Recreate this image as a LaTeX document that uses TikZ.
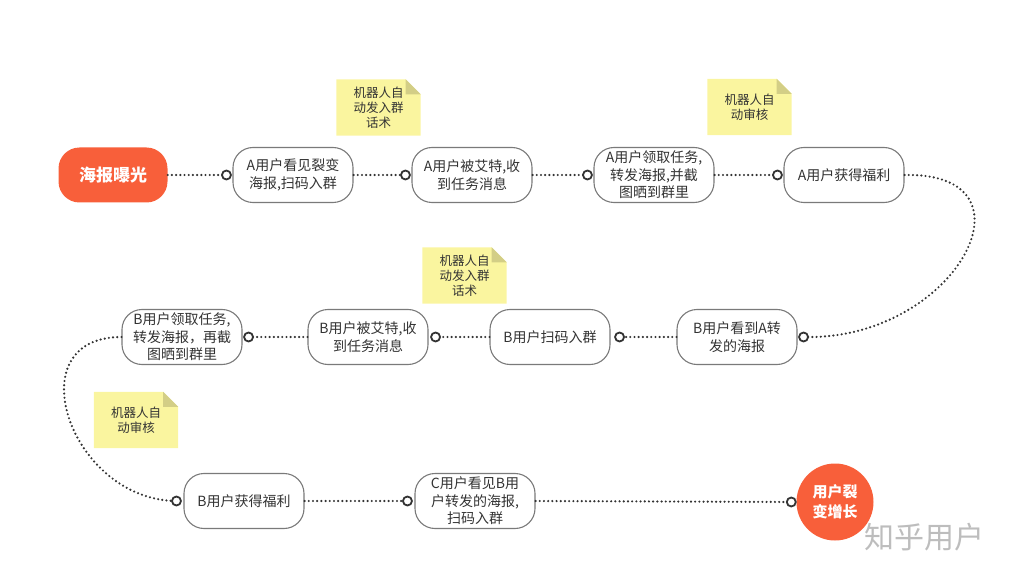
\documentclass[tikz,border=0pt]{standalone}
\usepackage{fontspec}
\setmainfont{Noto Sans CJK SC}
\usetikzlibrary{backgrounds}
\definecolor{orng}{HTML}{F85F3A}
\definecolor{boxgray}{HTML}{7A7A7A}
\definecolor{txt}{HTML}{333333}
\definecolor{linec}{HTML}{333333}
\definecolor{notey}{HTML}{FAF59F}
\definecolor{notefold}{HTML}{D3CE86}
\definecolor{wm}{HTML}{BDBDBD}
\newcommand{\drawnote}[1]{%
  \fill[notey] (#1.south west) -- (#1.north west) -- ([xshift=-15pt]#1.north east)
     -- ([yshift=-15pt]#1.north east) -- (#1.south east) -- cycle;
  \fill[notefold] ([xshift=-15pt]#1.north east) -- ([yshift=-15pt]#1.north east)
     -- ([xshift=-15pt,yshift=-15pt]#1.north east) -- cycle;}
\begin{document}
\begin{tikzpicture}[x=1pt,y=-1pt,
  box/.style={draw=boxgray, line width=1.1pt, fill=white, rounded corners=20pt,
    minimum width=120pt, minimum height=55pt, align=center, text=txt,
    font=\fontsize{14}{17.5}\selectfont, inner sep=1pt},
  startbox/.style={fill=orng, rounded corners=21pt, minimum width=109pt, minimum height=55pt,
    text=white, font=\fontsize{17}{20}\selectfont\bfseries},
  endcirc/.style={circle, fill=orng, minimum size=77pt, inner sep=0pt, align=center,
    text=white, font=\fontsize{15}{20.5}\selectfont\bfseries},
  notebox/.style={minimum width=84pt, minimum height=56pt, align=center, text=txt,
    font=\fontsize{12.5}{15}\selectfont, inner sep=1pt},
  conn/.style={draw=linec, line width=2.4pt, line cap=round, dash pattern=on 0pt off 4.2pt},
  dotend/.style={circle, solid, draw=linec, line width=1.8pt, fill=white, inner sep=0pt, minimum size=9pt},
  wmark/.style={text=wm, font=\fontsize{30}{32}\selectfont}
]
\useasboundingbox (0,0) rectangle (1015,572);

% notes
\node[notebox] (n1) at (378.5,107.5) {机器人自\\动发入群\\话术};
\node[notebox] (n2) at (749.5,107) {机器人自\\动审核};
\node[notebox] (n3) at (464.5,275.5) {机器人自\\动发入群\\话术};
\node[notebox] (n4) at (136,420) {机器人自\\动审核};
\begin{pgfonlayer}{background}
\drawnote{n1}\drawnote{n2}\drawnote{n3}\drawnote{n4}
\end{pgfonlayer}

% row 1
\node[startbox] (s) at (113,175) {海报曝光};
\node[box] (a1) at (293,175) {A用户看见裂变\\海报,扫码入群};
\node[box] (a2) at (472,175) {A用户被艾特,收\\到任务消息};
\node[box] (a3) at (654,175) {A用户领取任务,\\转发海报,并截\\图晒到群里};
\node[box] (a4) at (844,175) {A用户获得福利};
% row 2
\node[box] (b1) at (737,337) {B用户看到A转\\发的海报};
\node[box] (b2) at (550,337) {B用户扫码入群};
\node[box] (b3) at (368,337) {B用户被艾特,收\\到任务消息};
\node[box] (b4) at (182,337) {B用户领取任务,\\转发海报，再截\\图晒到群里};
% row 3
\node[box] (c1) at (244,501) {B用户获得福利};
\node[box] (c2) at (475,501) {C用户看见B用\\户转发的海报,\\扫码入群};
\node[endcirc] (e) at (835,502) {用户裂\\变增长};

% connectors
\draw[conn] (s.east) -- ([xshift=-6pt]a1.west) node[dotend] {};
\draw[conn] (a1.east) -- ([xshift=-6pt]a2.west) node[dotend] {};
\draw[conn] (a2.east) -- ([xshift=-6pt]a3.west) node[dotend] {};
\draw[conn] (a3.east) -- ([xshift=-6pt]a4.west) node[dotend] {};
\draw[conn] (a4.east) .. controls (1045,172) and (955,341) .. ([xshift=6pt]b1.east) node[dotend] {};
\draw[conn] (b1.west) -- ([xshift=9pt]b2.east) node[dotend] {};
\draw[conn] (b2.west) -- ([xshift=7pt]b3.east) node[dotend] {};
\draw[conn] (b3.west) -- ([xshift=6pt]b4.east) node[dotend] {};
\draw[conn] (b4.west) .. controls (15,337) and (70,500) .. ([xshift=-7pt]c1.west) node[dotend] {};
\draw[conn] (c1.east) -- ([xshift=-7pt]c2.west) node[dotend] {};
\draw[conn] (c2.east) -- ([xshift=-5pt]e.west) node[dotend] {};

\node[wmark] (w) at (924,537) {知乎用户};
\end{tikzpicture}
\end{document}
